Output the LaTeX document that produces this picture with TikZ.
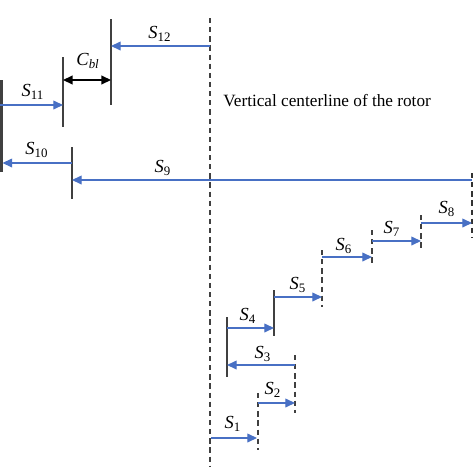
\documentclass[tikz,border=0pt]{standalone}
\usepackage{fontspec}
\setmainfont{Liberation Serif}
\usetikzlibrary{arrows.meta}
\definecolor{dimblue}{RGB}{72,112,196}
\definecolor{wallgray}{RGB}{64,64,64}

\begin{document}
\begin{tikzpicture}[x=0.02cm, y=-0.02cm,
    dim/.style={draw=dimblue, line width=0.7pt, -{Triangle[length=5.5pt,width=5pt]}},
    gap/.style={draw=black, line width=0.8pt, {Triangle[length=5.5pt,width=5pt]}-{Triangle[length=5.5pt,width=5pt]}},
    wall/.style={draw=wallgray, line width=0.8pt},
    guide/.style={draw=wallgray, line width=0.7pt, dash pattern=on 3pt off 2.2pt},
    lbl/.style={font=\fontsize{10.5}{12}\selectfont, inner sep=0pt}]
\useasboundingbox (0,0) rectangle (474,474);

% centerline and guide lines
\coordinate (ctop) at (210,18);
\coordinate (cbot) at (210,466);
\draw[guide] (ctop) -- (cbot);
\node[lbl, font=\fontsize{9.8}{12}\selectfont, anchor=base west] (ctext) at (223,106) {Vertical centerline of the rotor};

\begin{scope}[every node/.style={lbl}]
% left side: walls
\draw[wall] (111,19) coordinate (w12a) -- (111,105) coordinate (w12b);
\draw[wall] (63,57) coordinate (w11a) -- (63,127) coordinate (w11b);
\draw[wall, line width=1.8pt] (1.5,80) coordinate (w0a) -- (1.5,172) coordinate (w0b);
\draw[wall] (72,147) coordinate (w10a) -- (72,199) coordinate (w10b);
\draw[guide, line width=1.5pt, draw=wallgray!80!black] (472,173) coordinate (g9a) -- (472,237) coordinate (g9b);

% left side: dimensions
\coordinate (a12) at (210,46);  \coordinate (b12) at (111,46);
\coordinate (ac) at (63,80);    \coordinate (bc) at (111,80);
\coordinate (a11) at (0,105);   \coordinate (b11) at (63,105);
\coordinate (a10) at (72,163);  \coordinate (b10) at (2.5,163);
\coordinate (a9) at (472,180);  \coordinate (b9) at (72,180);
\draw[dim] (a12) -- (b12);
\draw[gap] (ac) -- (bc);
\draw[dim] (a11) -- (b11);
\draw[dim] (a10) -- (b10);
\draw[dim] (a9) -- (b9);
\node (s12) at (160,34) {\textit{S}\textsubscript{12}};
\node (cbl) at (88,61) {\textit{C}\textsubscript{\textit{bl}}};
\node (s11) at (33,92) {\textit{S}\textsubscript{11}};
\node (s10) at (37,150) {\textit{S}\textsubscript{10}};
\node (s9) at (163,168) {\textit{S}\textsubscript{9}};

% right side: steps
\draw[guide] (421,215) coordinate (g8a) -- (421,250) coordinate (g8b);
\draw[guide] (372,230) coordinate (g7a) -- (372,265) coordinate (g7b);
\draw[guide] (322,250) coordinate (g6a) -- (322,307) coordinate (g6b);
\draw[wall] (274,290) coordinate (w5a) -- (274,336) coordinate (w5b);
\draw[wall] (227,317) coordinate (w4a) -- (227,377) coordinate (w4b);
\draw[guide] (295,355) coordinate (g3a) -- (295,413) coordinate (g3b);
\draw[guide] (258,393) coordinate (g2a) -- (258,450) coordinate (g2b);

\coordinate (a8) at (421,223);  \coordinate (b8) at (472,223);
\coordinate (a7) at (372,241);  \coordinate (b7) at (421,241);
\coordinate (a6) at (322,257);  \coordinate (b6) at (372,257);
\coordinate (a5) at (274,297);  \coordinate (b5) at (322,297);
\coordinate (a4) at (227,328);  \coordinate (b4) at (274,328);
\coordinate (a3) at (295,365);  \coordinate (b3) at (227,365);
\coordinate (a2) at (258,403);  \coordinate (b2) at (295,403);
\coordinate (a1) at (211,438);  \coordinate (b1) at (257,438);
\draw[dim] (a8) -- (b8);
\draw[dim] (a7) -- (b7);
\draw[dim] (a6) -- (b6);
\draw[dim] (a5) -- (b5);
\draw[dim] (a4) -- (b4);
\draw[dim] (a3) -- (b3);
\draw[dim] (a2) -- (b2);
\draw[dim] (a1) -- (b1);
\node (s8) at (447,209) {\textit{S}\textsubscript{8}};
\node (s7) at (392,229) {\textit{S}\textsubscript{7}};
\node (s6) at (344,246) {\textit{S}\textsubscript{6}};
\node (s5) at (298,285) {\textit{S}\textsubscript{5}};
\node (s4) at (248,316) {\textit{S}\textsubscript{4}};
\node (s3) at (263,354) {\textit{S}\textsubscript{3}};
\node (s2) at (273,390) {\textit{S}\textsubscript{2}};
\node (s1) at (233,424) {\textit{S}\textsubscript{1}};
\end{scope}
\end{tikzpicture}
\end{document}
